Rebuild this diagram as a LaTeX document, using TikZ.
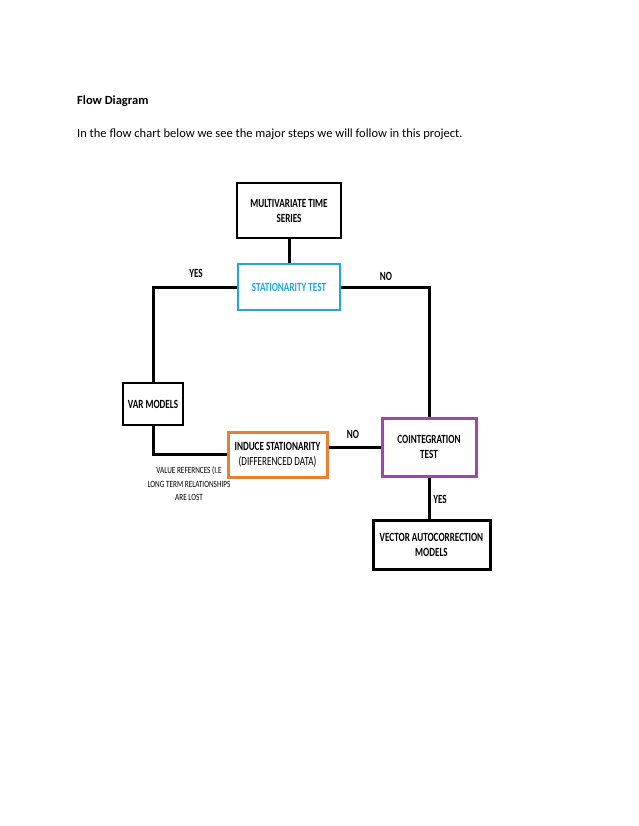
\documentclass[tikz,border=0pt]{standalone}
\usepackage{fontspec}
\setmainfont{Carlito}
\newfontfamily\boxfont[FakeStretch=0.73]{Carlito}
\newfontfamily\notefont[FakeStretch=0.76]{Carlito}
\usetikzlibrary{positioning}

\definecolor{statblue}{RGB}{35,165,225}
\definecolor{inducorange}{RGB}{237,125,49}
\definecolor{cointpurple}{RGB}{160,70,170}

\tikzset{
  stepbox/.style={draw=black, line width=2.5pt, align=center, inner sep=2pt,
    font=\boxfont\bfseries\fontsize{12.5}{15}\selectfont},
  link/.style={draw=black, line width=3pt},
  answer/.style={font=\boxfont\bfseries\fontsize{12.5}{14}\selectfont},
}

\begin{document}
\begin{tikzpicture}[x=1pt, y=-1pt]
  \fill[white] (0,0) rectangle (638,826);
  \useasboundingbox (0,0) rectangle (638,826);

  % heading and intro line
  \node[anchor=base west, inner sep=0pt, font=\bfseries\fontsize{12.5}{14}\selectfont] (title) at (77,105) {Flow Diagram};
  \node[anchor=base west, inner sep=0pt, font=\fontsize{12.5}{14}\selectfont] (intro) at (77,138)
    {In the flow chart below we see the major steps we will follow in this project.};

  % the boxes
  \node[stepbox, minimum width=104, minimum height=55] (multi) at (289,210.5) {MULTIVARIATE TIME\\SERIES};
  \node[stepbox, draw=statblue, line width=2pt, text=statblue, minimum width=102, minimum height=46] (stat) at (289,287) {STATIONARITY TEST};
  \node[stepbox, line width=2pt, minimum width=60, minimum height=42] (var) at (153,404) {VAR MODELS};
  \node[stepbox, draw=inducorange, line width=3pt, minimum width=99, minimum height=45] (induce) at (277.5,454.5)
    {INDUCE STATIONARITY\\\mdseries (DIFFERENCED DATA)};
  \node[stepbox, draw=cointpurple, line width=3pt, minimum width=94, minimum height=58] (coint) at (429,447) {COINTEGRATION\\TEST};
  \node[stepbox, line width=3pt, minimum width=117, minimum height=49] (vec) at (431.5,544.5) {VECTOR AUTOCORRECTION\\MODELS};

  % connectors
  \draw[link] (multi.south) -- (stat.north);
  \draw[link] (stat.west) -| (var.north);
  \draw[link] (stat.east) -| (coint.north);
  \draw[link] (var.south) |- (induce.west);
  \draw[link] (coint.west) -- (coint.west -| induce.east);
  \draw[link] (coint.south) -- (coint.south |- vec.north);

  % answers on the lines
  \node[answer] (yesleft) at (196,273) {YES};
  \node[answer] (noright) at (386,276) {NO};
  \node[answer] (nomid) at (353,434.5) {NO};
  \node[answer] (yesdown) at (440,499.5) {YES};

  % note under the induce step
  \node[align=center, font=\notefont\fontsize{9.5}{13.5}\selectfont] (note) at (189,484)
    {VALUE REFERNCES (I.E\\LONG TERM RELATIONSHIPS\\ARE LOST};
\end{tikzpicture}
\end{document}
